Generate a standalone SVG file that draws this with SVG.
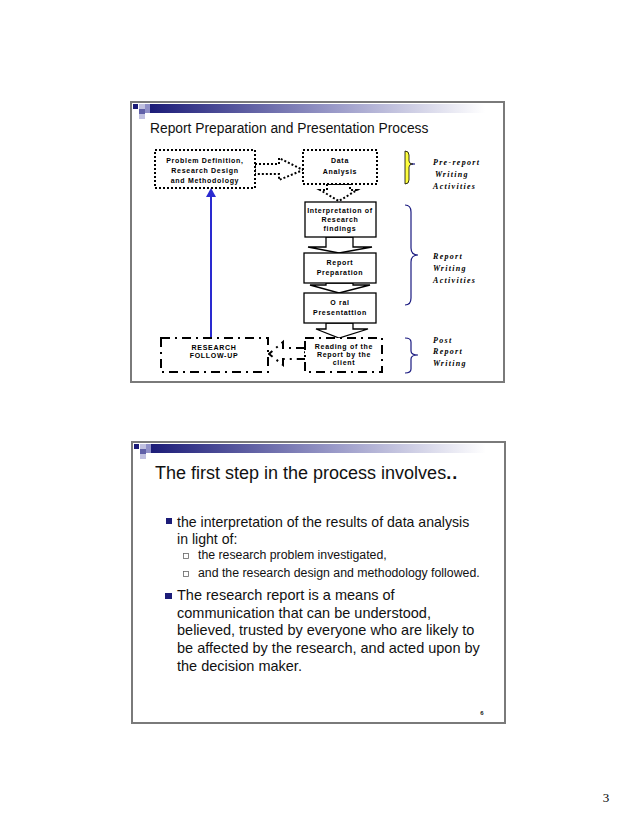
<svg xmlns="http://www.w3.org/2000/svg" width="638" height="826" viewBox="0 0 638 826">
<defs>
<linearGradient id="hdr" x1="0" y1="0" x2="1" y2="0">
<stop offset="0" stop-color="#1c1c78"/>
<stop offset="0.55" stop-color="#9a9ac8"/>
<stop offset="1" stop-color="#ffffff"/>
</linearGradient>
<style>
.slide{fill:#fff;stroke:#7a7a7a;stroke-width:2}
.dot{fill:#fff;stroke:#000;stroke-width:2;stroke-dasharray:2 2}
.dash{fill:#fff;stroke:#000;stroke-width:2;stroke-dasharray:9 5 2 5}
.solid{fill:#fff;stroke:#000;stroke-width:1.3}
.bt{font-family:"Liberation Sans",Arial,sans-serif;font-weight:bold;font-size:7px;letter-spacing:0.7px;text-anchor:middle;fill:#000}
.lab{font-family:"Liberation Serif","Times New Roman",serif;font-weight:bold;font-style:italic;font-size:8px;letter-spacing:1.3px;fill:#000}
.brace{fill:none;stroke:#1a1a80;stroke-width:1.2}
.t1{font-family:"Liberation Sans",Arial,sans-serif;fill:#111}
.sq{fill:#1c1c78}
.hsq{fill:none;stroke:#666;stroke-width:0.8}
</style>
</defs>
<rect width="638" height="826" fill="#fff"/>

<!-- Slide 1 -->
<g id="slide1">
<rect class="slide" x="131" y="102" width="373" height="280"/>
<rect x="150" y="104" width="335" height="9" fill="url(#hdr)"/>
<rect x="133" y="104" width="5" height="5" fill="#1c1c78"/>
<rect x="139" y="104" width="6" height="5" fill="#c0c0e0"/>
<rect x="145" y="104" width="5" height="9" fill="#9090c8"/>
<rect x="139" y="109" width="6" height="5" fill="#6060a8"/>
<rect x="139" y="114" width="6" height="5" fill="#c0c0e0"/>
<text class="t1" x="150" y="133" font-size="13.8">Report Preparation and Presentation Process</text>
</g>

<g id="connectors">
<polygon class="dot" points="255,164 279,164 279,158 303,170 279,180 279,174 255,174"/>
<polygon class="dot" points="327,184 327,190 320,190 339,201 357,190 350,190 350,184"/>
<polygon class="solid" points="326,237 326,247 308,247 339,253 372,247 353,247 353,237"/>
<polygon class="solid" points="326,283 326,285 310,285 339,293 370,285 353,285 353,283"/>
<polygon class="solid" points="326,323 326,329 316,329 339,338 368,329 353,329 353,323"/>
<polygon class="dash" points="305,348 283,348 283,342 269,354 283,365 283,359 305,359"/>
<line x1="211" y1="338" x2="211" y2="196" stroke="#2a2ad0" stroke-width="2"/>
<polygon points="211,188 206,197 216,197" fill="#2a2ad0"/>
</g>

<g id="n-problem">
<rect class="dot" x="155" y="150" width="100" height="38"/>
<text class="bt" x="205" y="163">Problem Definition,</text>
<text class="bt" x="205" y="173">Research Design</text>
<text class="bt" x="205" y="183">and Methodology</text>
</g>
<g id="n-data">
<rect class="dot" x="303" y="150" width="74" height="34"/>
<text class="bt" x="340" y="163" font-size="8">Data</text>
<text class="bt" x="340" y="174" font-size="8">Analysis</text>
</g>
<g id="n-interp">
<rect class="solid" x="305" y="202" width="71" height="35"/>
<text class="bt" x="340" y="213" font-size="6.5" letter-spacing="0.5">Interpretation of</text>
<text class="bt" x="340" y="222" font-size="6.5" letter-spacing="0.5">Research</text>
<text class="bt" x="340" y="231" font-size="6.5" letter-spacing="0.5">findings</text>
</g>
<g id="n-prep">
<rect class="solid" x="304" y="253" width="72" height="30"/>
<text class="bt" x="340" y="265" font-size="6.5" letter-spacing="0.6">Report</text>
<text class="bt" x="340" y="275" font-size="6.5" letter-spacing="0.6">Preparation</text>
</g>
<g id="n-oral">
<rect class="solid" x="304" y="293" width="72" height="30"/>
<text class="bt" x="340" y="305" font-size="6.5" letter-spacing="0.6">O ral</text>
<text class="bt" x="340" y="315" font-size="6.5" letter-spacing="0.6">Presentattion</text>
</g>
<g id="n-reading">
<rect class="dash" x="305" y="338" width="77" height="34"/>
<text class="bt" x="344" y="349" font-size="6.5" letter-spacing="0.5">Reading of the</text>
<text class="bt" x="344" y="357" font-size="6.5" letter-spacing="0.5">Report by the</text>
<text class="bt" x="344" y="365" font-size="6.5" letter-spacing="0.5">client</text>
</g>
<g id="n-followup">
<rect class="dash" x="161" y="338" width="107" height="34"/>
<text class="bt" x="214" y="350" letter-spacing="1">RESEARCH</text>
<text class="bt" x="214" y="358" letter-spacing="1">FOLLOW-UP</text>
</g>

<g id="braces">
<path d="M405,151 Q409,151 409,155 L409,161 Q409,164 413,164 Q409,164 409,167 L409,180 Q409,184 405,184 L405,151 Z" fill="#ffff40" stroke="#000" stroke-width="0.8"/>
<path d="M412,164 L415,164" stroke="#1a1a80" stroke-width="1.2"/>
<path class="brace" d="M405,205 Q411,205 411,212 L411,248 Q411,255 418,255 Q411,255 411,262 L411,298 Q411,305 405,305"/>
<path class="brace" d="M405,338 Q411,338 411,342 L411,351 Q411,355 418,355 Q411,355 411,359 L411,369 Q411,373 405,373"/>
</g>
<g id="labels">
<text class="lab" x="433" y="165">Pre-report</text>
<text class="lab" x="435" y="177">Writing</text>
<text class="lab" x="433" y="189">Activities</text>
<text class="lab" x="433" y="259">Report</text>
<text class="lab" x="433" y="271">Writing</text>
<text class="lab" x="433" y="283">Activities</text>
<text class="lab" x="433" y="343">Post</text>
<text class="lab" x="433" y="354">Report</text>
<text class="lab" x="433" y="366">Writing</text>
</g>

<!-- Slide 2 -->
<g id="slide2">
<rect class="slide" x="132" y="442" width="373" height="281"/>
<rect x="151" y="444" width="335" height="9" fill="url(#hdr)"/>
<rect x="134" y="444" width="5" height="5" fill="#1c1c78"/>
<rect x="140" y="444" width="6" height="5" fill="#c0c0e0"/>
<rect x="146" y="444" width="5" height="9" fill="#9090c8"/>
<rect x="140" y="449" width="6" height="5" fill="#6060a8"/>
<rect x="140" y="454" width="6" height="5" fill="#c0c0e0"/>
<text class="t1" x="155" y="479" font-size="18">The first step in the process involves<tspan font-weight="bold" letter-spacing="1">..</tspan></text>
<rect class="sq" x="166" y="518" width="6" height="6"/>
<text class="t1" x="177" y="527" font-size="14.1">the interpretation of the results of data analysis</text>
<text class="t1" x="177" y="544" font-size="14.1">in light of:</text>
<rect class="hsq" x="183.5" y="553.5" width="5" height="5"/>
<text class="t1" x="198" y="559" font-size="12.3">the research problem investigated,</text>
<rect class="hsq" x="183.5" y="571.5" width="5" height="5"/>
<text class="t1" x="198" y="577" font-size="12.3">and the research design and methodology followed.</text>
<rect class="sq" x="165" y="593" width="7" height="6"/>
<text class="t1" x="177" y="600" font-size="14.5">The research report is a means of</text>
<text class="t1" x="177" y="618" font-size="14.5">communication that can be understood,</text>
<text class="t1" x="177" y="635" font-size="14.5">believed, trusted by everyone who are likely to</text>
<text class="t1" x="177" y="653" font-size="14.5">be affected by the research, and acted upon by</text>
<text class="t1" x="177" y="671" font-size="14.5">the decision maker.</text>
<text class="t1" x="482" y="715" font-size="6" font-weight="bold" text-anchor="middle">6</text>
</g>
<text x="606" y="802" font-family="Liberation Serif,serif" font-size="13" text-anchor="middle">3</text>
</svg>
